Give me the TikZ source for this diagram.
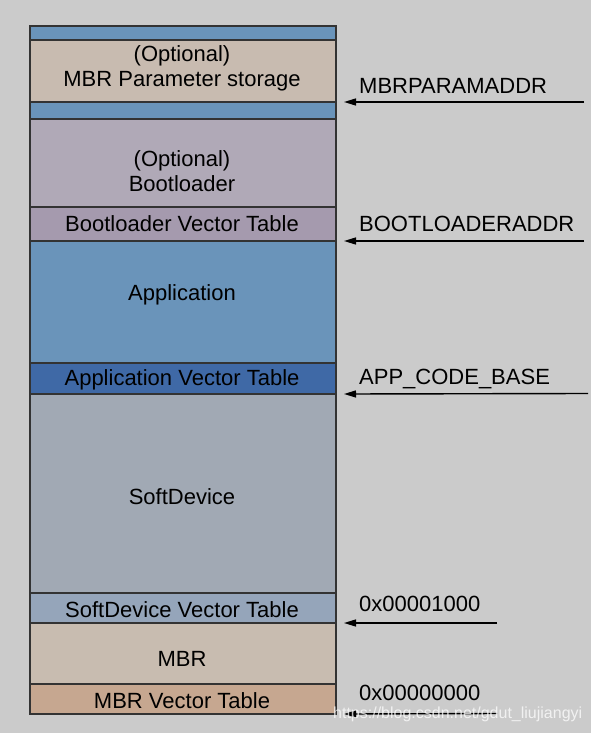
\documentclass[tikz,border=0pt]{standalone}
\usepackage{fontspec}
\setmainfont{Liberation Sans}
\usetikzlibrary{arrows.meta}
\definecolor{bgc}{HTML}{CBCBCB}
\definecolor{cblue}{HTML}{6A94BA}
\definecolor{cmbrp}{HTML}{C8BBB0}
\definecolor{cbl}{HTML}{B0A9B7}
\definecolor{cblvt}{HTML}{A59AAE}
\definecolor{cappvt}{HTML}{3F69A6}
\definecolor{csd}{HTML}{A1A9B4}
\definecolor{csdvt}{HTML}{95A5BA}
\definecolor{cmbr}{HTML}{C8BCB0}
\definecolor{cmbrvt}{HTML}{C6A790}
\definecolor{cedge}{HTML}{333333}
\begin{document}
\begin{tikzpicture}[x=1pt,y=-1pt,
  blk/.style={draw=cedge, line width=1.2pt, inner sep=0pt, outer sep=0pt, minimum width=306pt, anchor=north west},
  lbl/.style={font=\fontsize{22}{25}\selectfont, anchor=base, inner sep=0pt, text=black},
  addr/.style={font=\fontsize{22}{25}\selectfont, anchor=base west, inner sep=0pt, text=black},
  ptr/.style={line width=1.4pt, draw=black, -{Triangle[length=12pt,width=7pt]}}]
\fill[bgc] (0,0) rectangle (591,733);
\useasboundingbox (0,0) rectangle (591,733);
% blocks
\node[blk, fill=cblue,  minimum height=14pt]  (top)   at (30,26)  {};
\node[blk, fill=cmbrp,  minimum height=62pt]  (mbrp)  at (30,40)  {};
\node[blk, fill=cblue,  minimum height=17pt]  (gap)   at (30,102) {};
\node[blk, fill=cbl,    minimum height=88pt]  (bl)    at (30,119) {};
\node[blk, fill=cblvt,  minimum height=34pt]  (blvt)  at (30,207) {};
\node[blk, fill=cblue,  minimum height=122pt] (app)   at (30,241) {};
\node[blk, fill=cappvt, minimum height=31pt]  (appvt) at (30,363) {};
\node[blk, fill=csd,    minimum height=199pt] (sd)    at (30,394) {};
\node[blk, fill=csdvt,  minimum height=30pt]  (sdvt)  at (30,593) {};
\node[blk, fill=cmbr,   minimum height=61pt]  (mbr)   at (30,623) {};
\node[blk, fill=cmbrvt, minimum height=30pt]  (mbrvt) at (30,684) {};
% block texts
\node[lbl] (t1a) at (182,61.5) {(Optional)};
\node[lbl] (t1b) at (182,86.5) {MBR Parameter storage};
\node[lbl] (t2a) at (182,166) {(Optional)};
\node[lbl] (t2b) at (182,191.5) {Bootloader};
\node[lbl] (t3)  at (182,231) {Bootloader Vector Table};
\node[lbl] (t4)  at (182,300) {Application};
\node[lbl] (t5)  at (182,385) {Application Vector Table};
\node[lbl] (t6)  at (182,504) {SoftDevice};
\node[lbl] (t7)  at (182,617.5) {SoftDevice Vector Table};
\node[lbl] (t8)  at (182,666) {MBR};
\node[lbl] (t9)  at (182,708.3) {MBR Vector Table};
% address labels
\node[addr] (l1) at (359,93.3)  {MBRPARAMADDR};
\node[addr] (l2) at (359,231.7) {BOOTLOADERADDR};
\node[addr] (l3) at (359,384)   {APP\_CODE\_BASE};
\node[addr] (l4) at (359,611)   {0x00001000};
\node[addr] (l5) at (359,700.7) {0x00000000};
% arrows
\coordinate (s1) at (584,102);
\coordinate (s2) at (584,241);
\coordinate (s3) at (588,393.5);
\coordinate (s4) at (497,623);
\coordinate (s5) at (497,713.5);
\draw[ptr] (s1) -- ([xshift=8pt]mbrp.south east);
\draw[ptr] (s2) -- ([xshift=8pt]blvt.south east);
\draw[ptr] (s3) -- ([xshift=8pt]appvt.south east);
\draw[ptr] (s4) -- ([xshift=8pt]sdvt.south east);
\draw[ptr] (s5) -- ([xshift=8pt]mbrvt.south east);
% watermark
\node[font=\fontsize{16}{16}\selectfont, text=white, opacity=0.75, anchor=base west, inner sep=0pt] (wm) at (333,718) {https://blog.csdn.net/gdut\_liujiangyi};
\end{tikzpicture}
\end{document}
